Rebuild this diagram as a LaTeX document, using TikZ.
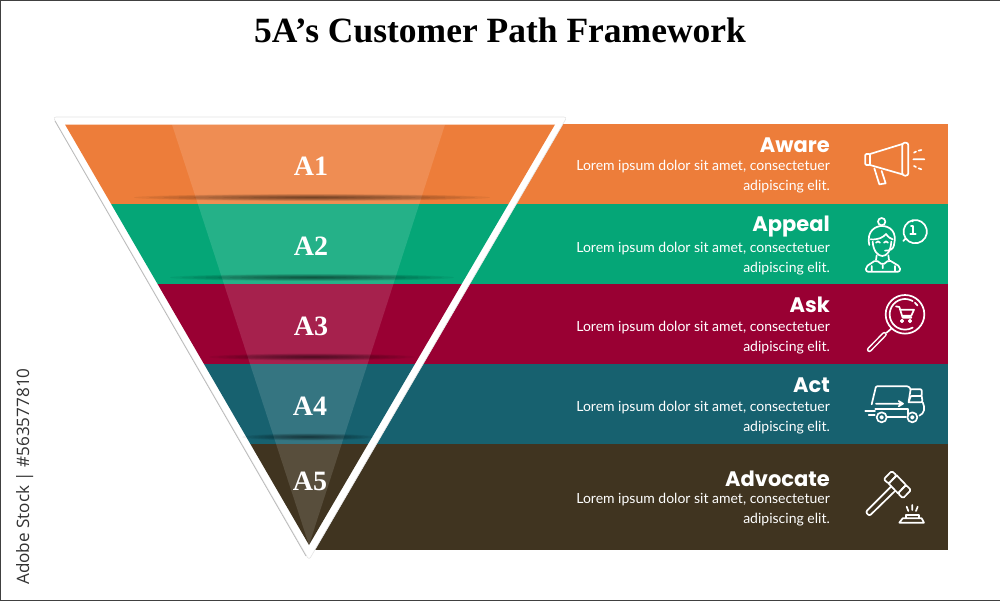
\documentclass[tikz,border=0pt]{standalone}
\usepackage{fontspec}
\setmainfont{Liberation Serif}
\newfontfamily\bodyfont{Lato}
\newfontfamily\headfont{Poppins}
\newfontfamily\sidefont{Open Sans}
\definecolor{cOrange}{HTML}{ED7D3A}
\definecolor{cGreen}{HTML}{05A677}
\definecolor{cCrimson}{HTML}{990033}
\definecolor{cTeal}{HTML}{17616F}
\definecolor{cBrown}{HTML}{403420}
\newcommand{\bandshadow}[3]{%
  \foreach \i in {1,...,12}{\fill[black,opacity=0.055] (#1,#2) ellipse [x radius={#3*\i/12},y radius={3.4*\i/12}];}}
\newcommand{\itemtext}[4]{%
  \node[headtext] (t#1) at (830,#3) {#2};
  \node[bodytext] (b#1) at (830,#4) {Lorem ipsum dolor sit amet, consectetuer\\adipiscing elit.};}
\tikzset{
  headtext/.style={anchor=base east,inner sep=0pt,text=white,font=\headfont\bfseries\fontsize{21}{24}\selectfont},
  bodytext/.style={anchor=base east,inner sep=0pt,text=white,align=right,font=\bodyfont\fontsize{14}{20}\selectfont},
  alabel/.style={anchor=base,inner sep=0pt,text=white,font=\bfseries\fontsize{28}{30}\selectfont},
  icon/.style={draw=white,line width=1.7pt,line cap=round,line join=round},
}
\begin{document}
\begin{tikzpicture}[x=1pt,y=-1pt]
\useasboundingbox (0,0) rectangle (1000,600);
\fill[white] (0,0) rectangle (1000,600);
\draw[black!75,line width=1pt] (0,0) rectangle (1000,600);
% right bands
\fill[cOrange] (500,124) rectangle (948,204);
\fill[cGreen] (450,204) rectangle (948,284);
\fill[cCrimson] (400,284) rectangle (948,364);
\fill[cTeal] (350,364) rectangle (948,444);
\fill[cBrown] (312,444) rectangle (948,550);
% funnel frame
\draw[draw=black!10,fill=white,line width=0.6pt,rounded corners=3pt] (53,117) -- (567,117) -- (309,560) -- cycle;
\draw[black!28,line width=0.7pt] (55,121) -- (306,556);
% funnel bands
\begin{scope}
\clip (65,124.5) -- (555,124.5) -- (309,545) -- cycle;
\fill[cOrange] (60,124) rectangle (560,204);
\fill[cGreen] (60,204) rectangle (560,284);
\fill[cCrimson] (60,284) rectangle (560,364);
\fill[cTeal] (60,364) rectangle (560,444);
\fill[cBrown] (60,444) rectangle (560,550);
\end{scope}
\fill[white,opacity=0.13] (172,124.5) -- (445,124.5) -- (309,545) -- cycle;
\bandshadow{312}{197.5}{178}
\bandshadow{312}{277.5}{142}
\bandshadow{312}{357}{103}
\bandshadow{308}{437}{66}
% labels
\node[alabel] (a1) at (311,175) {A1};
\node[alabel] (a2) at (311,255) {A2};
\node[alabel] (a3) at (311,335) {A3};
\node[alabel] (a4) at (310,415) {A4};
\node[alabel] (a5) at (310,490) {A5};
% title
\node[anchor=base,inner sep=0pt,font=\bfseries\fontsize{35.5}{38}\selectfont] (title) at (500,42) {5A’s Customer Path Framework};
% side credit
\node[anchor=base west,rotate=90,inner sep=0pt,text=black!80,font=\sidefont\fontsize{17.1}{20}\selectfont] (credit) at (29,585) {Adobe Stock | \#563577810};
% texts
\itemtext{1}{Aware}{152}{190}
\itemtext{2}{Appeal}{231}{272}
\itemtext{3}{Ask}{312}{351}
\itemtext{4}{Act}{392}{431}
\itemtext{5}{Advocate}{486}{523}
% megaphone + person
\begin{scope}[shift={(840,130)},x=0.3333pt,y=-0.3333pt]
\draw[icon,rounded corners=1pt] (90,72) -- (76,72) -- (76,105) -- (90,105) -- cycle;
\draw[icon] (90,72) -- (187,42) (90,105) -- (187,133);
\draw[icon,rounded corners=2.5pt] (187,38) rectangle (205,137);
\draw[icon] (103,115) -- (118,163) -- (137,160) -- (125,123);
\draw[icon] (222,68) -- (228,65) (236,62) -- (244,60) (220,88) -- (253,88) (222,108) -- (228,111) (236,115) -- (244,118);
% person
\draw[icon] (197,325) arc [start angle=145,end angle=-215,radius=35] -- (190,333) -- (197,325);
\draw[icon] (213,287) -- (219,287) -- (219,311) (211,311) -- (227,311);
\fill[white] (218,273) circle (1.3pt);
\draw[icon] (125,275) circle [radius=11];
\draw[icon] (88,345) .. controls (78,300) and (110,288) .. (125,288) .. controls (150,288) and (172,305) .. (162,345);
\draw[icon] (92,328) .. controls (115,330) and (130,322) .. (138,312) .. controls (145,322) and (152,326) .. (158,328);
\draw[icon] (98,335) .. controls (100,365) and (115,378) .. (127,378) .. controls (140,378) and (152,365) .. (154,335);
\draw[icon] (108,338) .. controls (112,333) and (116,333) .. (120,338) (132,338) .. controls (136,333) and (140,333) .. (144,338);
\draw[icon] (162,345) .. controls (160,358) and (150,362) .. (135,362);
\draw[icon,rounded corners=2pt] (78,425) -- (78,410) -- (108,390) -- (128,405) -- (147,390) -- (180,410) -- (180,425) -- cycle;
\draw[icon] (110,376) -- (108,390) (145,376) -- (147,390) (128,405) -- (128,415) (95,408) -- (95,424) (165,408) -- (165,424);
\end{scope}
% magnifier + truck
\begin{scope}[shift={(840,285)},x=0.3333pt,y=-0.3333pt]
\draw[icon] (195,88) circle [radius=58];
\draw[icon] (195,88) ++(-60:46) arc [start angle=-60,end angle=-300,radius=46];
\draw[icon] (195,88) ++(-35:46) arc [start angle=-35,end angle=-50,radius=46];
\draw[icon] (155,130) -- (140,143);
\draw[white,line width=5pt,line cap=round] (133,148) -- (88,194);
\draw[cCrimson,line width=2pt,line cap=round] (133,148) -- (88,194);
\draw[icon] (168,64) -- (178,66) -- (188,98) -- (214,98) (180,74) -- (222,74) -- (214,92) -- (186,92);
\draw[icon] (186,108) circle [radius=3.5];
\draw[icon] (210,108) circle [radius=3.5];
% truck
\draw[icon,rounded corners=1pt] (95,358) -- (108,304) -- (205,304) -- (212,312) -- (206,350);
\draw[icon] (108,356) -- (188,356) (176,348) -- (189,356) -- (176,364);
\draw[icon,rounded corners=1pt] (213,313) -- (245,313) -- (245,333) -- (212,333) -- (206,352);
\draw[icon,rounded corners=2pt] (206,352) -- (248,352) -- (245,333) (248,352) -- (252,358) -- (252,382) -- (238,392);
\draw[icon] (76,378) -- (105,378) (86,390) -- (104,390) (106,372) -- (204,372) -- (204,388) (142,395) -- (198,395);
\draw[icon] (125,397) circle [radius=15];
\draw[icon] (125,397) circle [radius=4];
\draw[icon] (217,397) circle [radius=15];
\draw[icon] (217,397) circle [radius=4];
\end{scope}
% gavel
\begin{scope}[shift={(840,450)},x=0.3333pt,y=-0.3333pt]
\draw[icon,rounded corners=1.5pt] (131,88) -- (155,63) -- (170,76) -- (146,101) -- cycle;
\draw[icon] (146,101) -- (170,76) -- (198,105) -- (174,130) -- cycle;
\draw[icon,rounded corners=1.5pt] (174,130) -- (198,105) -- (213,120) -- (189,145) -- cycle;
\draw[icon,rounded corners=2pt] (154,109) -- (77,186) -- (88,198) -- (166,122);
\draw[icon] (178,218) -- (252,218) -- (245,205) -- (188,205) -- cycle;
\draw[icon] (197,205) -- (197,195) -- (238,195) -- (238,205);
\draw[icon] (205,183) -- (200,170) (217,180) -- (217,165) (228,183) -- (233,170);
\end{scope}
\end{tikzpicture}
\end{document}
